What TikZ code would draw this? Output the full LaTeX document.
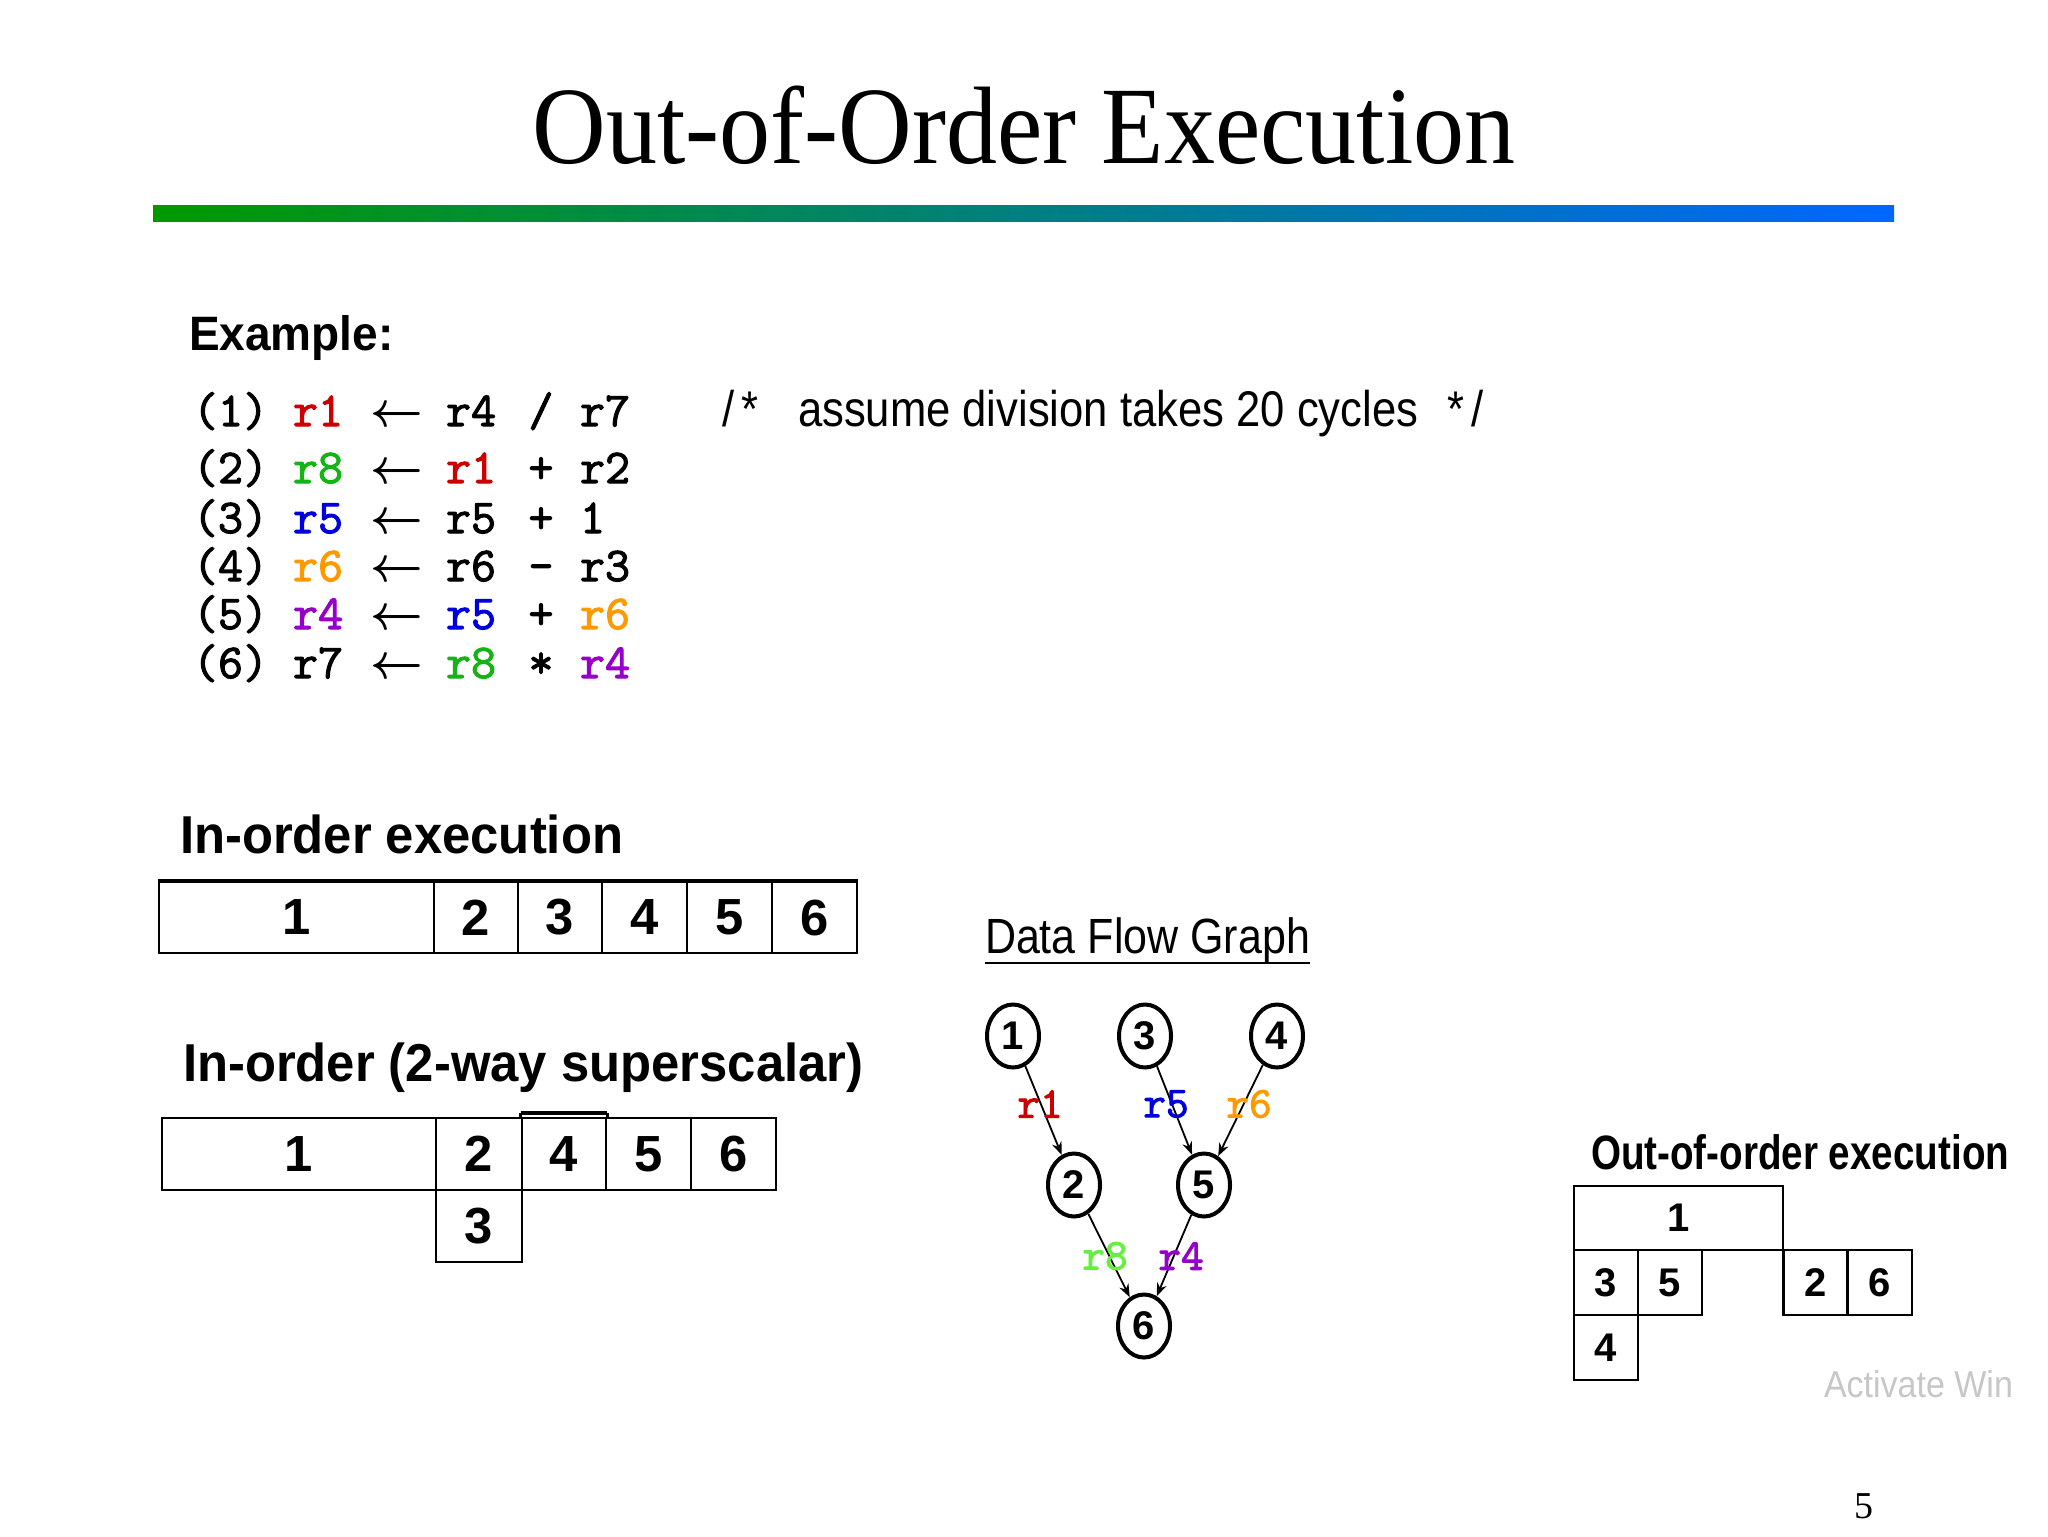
\documentclass[tikz,border=0pt]{standalone}
\usepackage{amsmath}
\usepackage{fontspec}
\setmainfont{Liberation Serif}
\newfontfamily\arialf{Liberation Sans}
\newfontfamily\courf[FakeBold=2.2]{Latin Modern Mono}
\usetikzlibrary{shapes.geometric,arrows.meta}
\definecolor{cred}{RGB}{204,0,0}
\definecolor{cgreen}{RGB}{20,180,20}
\definecolor{lgreen}{RGB}{100,240,60}
\definecolor{cblue}{RGB}{0,0,220}
\definecolor{corange}{RGB}{255,153,0}
\definecolor{cpurple}{RGB}{150,0,200}
\definecolor{barl}{RGB}{0,153,0}
\definecolor{barr}{RGB}{0,102,255}
\newcommand\stretchy[2][1.12]{\scalebox{1}[#1]{#2}}
\newcommand\coderow[9]{%
 \node[code, anchor=base west] (n#1) at (193,#2) {(#1)};
 \node[code, anchor=base west, text=#3] (d#1) at (293,#2) {#4};
 \node[code, anchor=base] (a#1) at (397,#2) {\scalebox{0.92}[1]{$\boldsymbol{\leftarrow}$}};
 \node[code, anchor=base west, text=#5] (s#1) at (446,#2) {#6};
 \node[code, anchor=base] (o#1) at (541,#2) {#7};
 \node[code, anchor=base west, text=#8] (t#1) at (580,#2) {#9};}
\begin{document}
\begin{tikzpicture}[x=0.5pt,y=-0.5pt,
  txt/.style={inner sep=0pt, outer sep=0pt},
  code/.style={txt, font=\courf\fontsize{24.3}{26}\selectfont},
  cell/.style={draw, line width=1.3pt, inner sep=0pt, minimum height=35.5pt,
    font=\arialf\bfseries\fontsize{25.4}{30}\selectfont},
  ocell/.style={draw, line width=1.3pt, inner sep=0pt, minimum width=32pt, minimum height=32.5pt,
    font=\arialf\bfseries\fontsize{20}{24}\selectfont},
  gnode/.style={draw, ellipse, line width=2pt, minimum width=26pt, minimum height=31.5pt,
    inner sep=0pt, font=\arialf\bfseries\fontsize{20}{22}\selectfont},
  gedge/.style={-{Stealth[length=6.5pt,width=5pt]}, line width=0.9pt},
  glabel/.style={txt, font=\courf\fontsize{22}{24}\selectfont},
  head/.style={txt, font=\arialf\bfseries\fontsize{25.4}{30}\selectfont}
]
\useasboundingbox (0,0) rectangle (2048,1536);
\fill[white] (0,0) rectangle (2048,1536);

% title and bar
\node[txt, anchor=base] (title) at (1024,163) {\fontsize{51}{60}\selectfont\stretchy[1.08]{Out-of-Order Execution}};
\shade[left color=barl, right color=barr] (153,205) rectangle (1894,221);

% example
\node[txt, anchor=base west] (ex) at (189,350) {\arialf\bfseries\fontsize{23}{28}\selectfont\stretchy[1.05]{Example:}};
\coderow{1}{426}{cred}{r1}{black}{r4}{/}{black}{r7}
\coderow{2}{483}{cgreen}{r8}{cred}{r1}{+}{black}{r2}
\coderow{3}{533}{cblue}{r5}{black}{r5}{+}{black}{1}
\coderow{4}{581}{corange}{r6}{black}{r6}{-}{black}{r3}
\coderow{5}{629}{cpurple}{r4}{cblue}{r5}{+}{corange}{r6}
\coderow{6}{678}{black}{r7}{cgreen}{r8}{*}{cpurple}{r4}
\node[txt, anchor=base west] (cm1) at (722,426) {\arialf\fontsize{21.8}{26}\selectfont\stretchy[1.15]{/\,*}};
\node[txt, anchor=base west] (cm2) at (798,426) {\arialf\fontsize{21.8}{26}\selectfont\stretchy[1.15]{assume division takes 20 cycles}};
\node[txt, anchor=base east] (cm3) at (1484,426) {\arialf\fontsize{21.8}{26}\selectfont\stretchy[1.15]{*\,/}};

% in-order execution
\node[head, anchor=base west] (h1) at (180,853) {\stretchy[1.05]{In-order execution}};
\node[cell, minimum width=137.5pt] (i1) at (296.5,917.5) {1};
\node[cell, minimum width=42pt] (i2) at (476,917.5) {2};
\node[cell, minimum width=42pt] (i3) at (560,917.5) {3};
\node[cell, minimum width=42.5pt] (i4) at (644.5,917.5) {4};
\node[cell, minimum width=42.5pt] (i5) at (729.5,917.5) {5};
\node[cell, minimum width=42.5pt] (i6) at (814.5,917.5) {6};
\draw[line width=2.2pt] (i1.north west) -- (i6.north east);

% in-order superscalar
\node[head, anchor=base west] (h2) at (183,1081) {\stretchy[1.05]{In-order (2-way superscalar)}};
\node[cell, minimum width=137pt, minimum height=36pt] (s1) at (299,1154) {1};
\node[cell, minimum width=43pt, minimum height=36pt] (s2) at (479,1154) {2};
\node[cell, minimum width=42pt, minimum height=36pt] (s4) at (564,1154) {4};
\node[cell, minimum width=42.5pt, minimum height=36pt] (s5) at (648.5,1154) {5};
\node[cell, minimum width=42.5pt, minimum height=36pt] (s6) at (733.5,1154) {6};
\node[cell, minimum width=43pt, minimum height=36pt] (s3) at (479,1226) {3};
\draw[line width=2.2pt] ([yshift=2pt]s4.north west) -- ([yshift=2pt]s4.north east);
\draw[line width=1.3pt] ([yshift=2pt]s4.north west) -- (s4.north west);
\draw[line width=1.3pt] ([yshift=2pt]s4.north east) -- (s4.north east);

% data flow graph
\node[txt, anchor=base west] (dfg) at (985,953) {\arialf\fontsize{21.5}{26}\selectfont\stretchy[1.15]{Data Flow Graph}};
\draw[line width=1.1pt] ([yshift=-5pt]dfg.base west) -- ([yshift=-5pt]dfg.base east);
\node[gnode] (g1) at (1013,1036) {1};
\node[gnode] (g3) at (1145,1036) {3};
\node[gnode] (g4) at (1277,1036) {4};
\node[gnode] (g2) at (1074,1185) {2};
\node[gnode] (g5) at (1204,1185) {5};
\node[gnode] (g6) at (1144,1326) {6};
\draw[gedge] (g1) -- (g2);
\draw[gedge] (g3) -- (g5);
\draw[gedge] (g4) -- (g5);
\draw[gedge] (g2) -- (g6);
\draw[gedge] (g5) -- (g6);
\node[glabel, text=cred] (l1) at (1040,1104) {r1};
\node[glabel, text=cblue] (l5) at (1166,1104) {r5};
\node[glabel, text=corange] (l6) at (1249,1104) {r6};
\node[glabel, text=lgreen] (l8) at (1105,1256) {r8};
\node[glabel, text=cpurple] (l4) at (1181,1256) {r4};

% out-of-order execution
\node[txt, anchor=base west] (h3) at (1591,1169) {\arialf\bfseries\fontsize{19.3}{24}\selectfont\stretchy[1.25]{Out-of-order execution}};
\node[ocell, minimum width=104.5pt, minimum height=32pt] (o1) at (1678.5,1218) {1};
\node[ocell] (o3) at (1606,1282.5) {3};
\node[ocell] (o5) at (1670,1282.5) {5};
\node[ocell] (o2) at (1815.5,1282.5) {2};
\node[ocell] (o6) at (1880,1282.5) {6};
\node[ocell] (o4) at (1606,1347.5) {4};

% watermark
\node[txt, anchor=base west, text=black!22] (wm) at (1824,1397) {\arialf\fontsize{17}{20}\selectfont\stretchy[1.1]{Activate Win}};

% page number
\node[txt, anchor=base] (pg) at (1864,1518) {\fontsize{19}{22}\selectfont 5};
\end{tikzpicture}
\end{document}
